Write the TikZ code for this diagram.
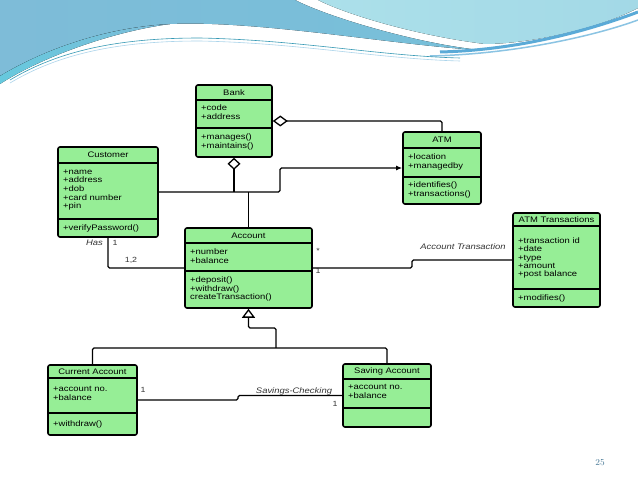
\documentclass[tikz,border=0pt]{standalone}
\usepackage{fontspec}
\setsansfont[FakeStretch=1.18]{Liberation Sans}
\usetikzlibrary{arrows.meta}
\definecolor{clsgreen}{RGB}{150,238,150}
\definecolor{wblue}{RGB}{126,188,216}
\definecolor{wcyan}{RGB}{92,206,224}
\definecolor{wlight}{RGB}{172,224,234}
\definecolor{wstreak}{RGB}{90,170,215}
\definecolor{numcol}{RGB}{70,120,150}
\newcommand{\umlbox}[7]{%
  \node[cls, minimum width={#4-#2}, minimum height={#5-#3}] (#1) at ({(#2+#4)/2},{(#3+#5)/2}) {};
  \draw[divline] (#2,#6) -- (#4,#6);
  \draw[divline] (#2,#7) -- (#4,#7);}
\tikzset{
  cls/.style={draw=black, fill=clsgreen, line width=1.6pt, rounded corners=2pt, inner sep=0pt},
  divline/.style={line width=1.3pt},
  ttl/.style={font=\sffamily\fontsize{8}{8.5}\selectfont, text=black, inner sep=0pt},
  mem/.style={font=\sffamily\fontsize{8}{8.6}\selectfont, text=black, align=left, anchor=north west, inner sep=0pt},
  conn/.style={line width=1.4pt, rounded corners=1.5pt},
  lbl/.style={font=\sffamily\fontsize{7.5}{8}\selectfont, text=black!80, inner sep=0pt},
  ilbl/.style={font=\sffamily\itshape\fontsize{8}{8}\selectfont, text=black!80, inner sep=0pt}
}
\begin{document}
\begin{tikzpicture}[x=1pt,y=-1pt]
\useasboundingbox (0,0) rectangle (638,478);
\fill[white] (0,0) rectangle (638,478);
% header wave
\fill[left color=wblue, right color=wblue!80!wcyan] (0,0) -- (295,0) .. controls (330,18) and (420,44) .. (480,50) .. controls (400,46) and (260,20) .. (170,24) .. controls (100,28) and (40,52) .. (0,76) -- cycle;
\fill[left color=wcyan!70!wblue, right color=wblue] (0,76) .. controls (40,52) and (100,28) .. (170,24) .. controls (110,32) and (40,58) .. (0,84) -- cycle;
\fill[left color=wlight, right color=wlight!80!wblue] (318,0) -- (638,0) -- (638,8) .. controls (600,28) and (530,44) .. (485,44) .. controls (420,36) and (350,16) .. (318,0) -- cycle;
\draw[wstreak, line width=3pt] (440,52) .. controls (520,50) and (590,30) .. (638,12);
\draw[wstreak!70!white, line width=1.5pt] (430,56) .. controls (520,54) and (600,34) .. (638,20);
\draw[wstreak!60!teal, line width=0.6pt] (10,80) .. controls (60,50) and (120,38) .. (200,38) .. controls (300,40) and (380,56) .. (460,58);
\draw[wstreak!50!white, line width=0.6pt] (10,83) .. controls (60,53) and (120,41) .. (200,41) .. controls (300,43) and (380,59) .. (460,61);

% classes
\umlbox{bank}{196}{85}{272}{157}{100}{128}
\node[ttl] (bankt) at (234,92.5) {Bank};
\node[mem] (banka) at (201,104.5) {+code\\+address};
\node[mem] (bankm) at (201,133.5) {+manages()\\+maintains()};

\umlbox{atm}{403}{132}{481}{204}{148}{177}
\node[ttl] (atmt) at (442,140) {ATM};
\node[mem] (atma) at (408,153.5) {+location\\+managedby};
\node[mem] (atmm) at (408,181.5) {+identifies()\\+transactions()};

\umlbox{cust}{58}{147}{158}{237}{163}{219}
\node[ttl] (custt) at (108,155) {Customer};
\node[mem] (custa) at (63,169.5) {+name\\+address\\+dob\\+card number\\+pin};
\node[mem] (custm) at (63,224.5) {+verifyPassword()};

\umlbox{acc}{185}{228}{312}{308}{243}{271}
\node[ttl] (acct) at (248.5,235.5) {Account};
\node[mem] (acca) at (190,248.5) {+number\\+balance};
\node[mem] (accm) at (190,276.5) {+deposit()\\+withdraw()\\createTransaction()};

\umlbox{trx}{513}{213}{600}{307}{226}{289}
\node[ttl] (trxt) at (556.5,219.5) {ATM Transactions};
\node[mem, font=\sffamily\fontsize{8}{8.3}\selectfont] (trxa) at (518,237.5) {+transaction id\\+date\\+type\\+amount\\+post balance};
\node[mem] (trxm) at (518,294.5) {+modifies()};

\umlbox{cur}{48}{365}{137}{435}{378}{413}
\node[ttl] (curt) at (92.5,371.5) {Current Account};
\node[mem] (cura) at (53,386.5) {+account no.\\+balance};
\node[mem] (curm) at (53,420.5) {+withdraw()};

\umlbox{sav}{343}{364}{431}{427}{379}{408}
\node[ttl] (savt) at (387,371.5) {Saving Account};
\node[mem] (sava) at (348,384.5) {+account no.\\+balance};

% connectors
\coordinate (j1) at (280,192);
\coordinate (g1) at (276,328);
\coordinate (g2) at (276,348);
\coordinate (t1) at (412,268);
\coordinate (t2) at (412,260);
\coordinate (s1) at (238,400);
\coordinate (s2) at (238,395.5);

\draw[conn, {Diamond[open, length=15pt, width=11pt, line width=1.3pt]}-] (bank.east) -| (atm.north);
\draw[conn, {Diamond[open, length=12pt, width=13pt, line width=1.3pt]}-] (bank.south) -- (bank.south |- cust.east);
\draw[conn, -{Latex[length=6pt, width=5pt]}] (cust.east) -- (j1) |- (atm.west);
\draw[conn] (acc.north) -- (acc.north |- cust.east);
\draw[conn] (cust.south) |- (acc.west);
\draw[conn] (acc.east) -- (t1) -- (t2) -- (trx.west);
\draw[conn] (cur.north) |- (g2) -| (sav.north);
\draw[conn, -{Triangle[open, length=9pt, width=13pt, line width=1.3pt]}] (g2) -- (g1) -| (acc.south);
\draw[conn] (cur.east) -- (s1) -- (s2) -- (sav.west);

% labels
\node[lbl] (m1) at (318,251) {*};
\node[lbl] (m2) at (318,271) {1};
\node[ilbl] (at) at (463,247) {Account Transaction};
\node[ilbl, anchor=east] (has) at (103,243) {Has};
\node[lbl] (m3) at (115,243) {1};
\node[lbl] (m4) at (131,260) {1,2};
\node[ilbl] (sc) at (294,391) {Savings-Checking};
\node[lbl] (m5) at (143,390) {1};
\node[lbl] (m6) at (335,404) {1};
\node[font=\fontsize{9}{10}\selectfont, text=numcol] (pg) at (600,463) {25};
\end{tikzpicture}
\end{document}
